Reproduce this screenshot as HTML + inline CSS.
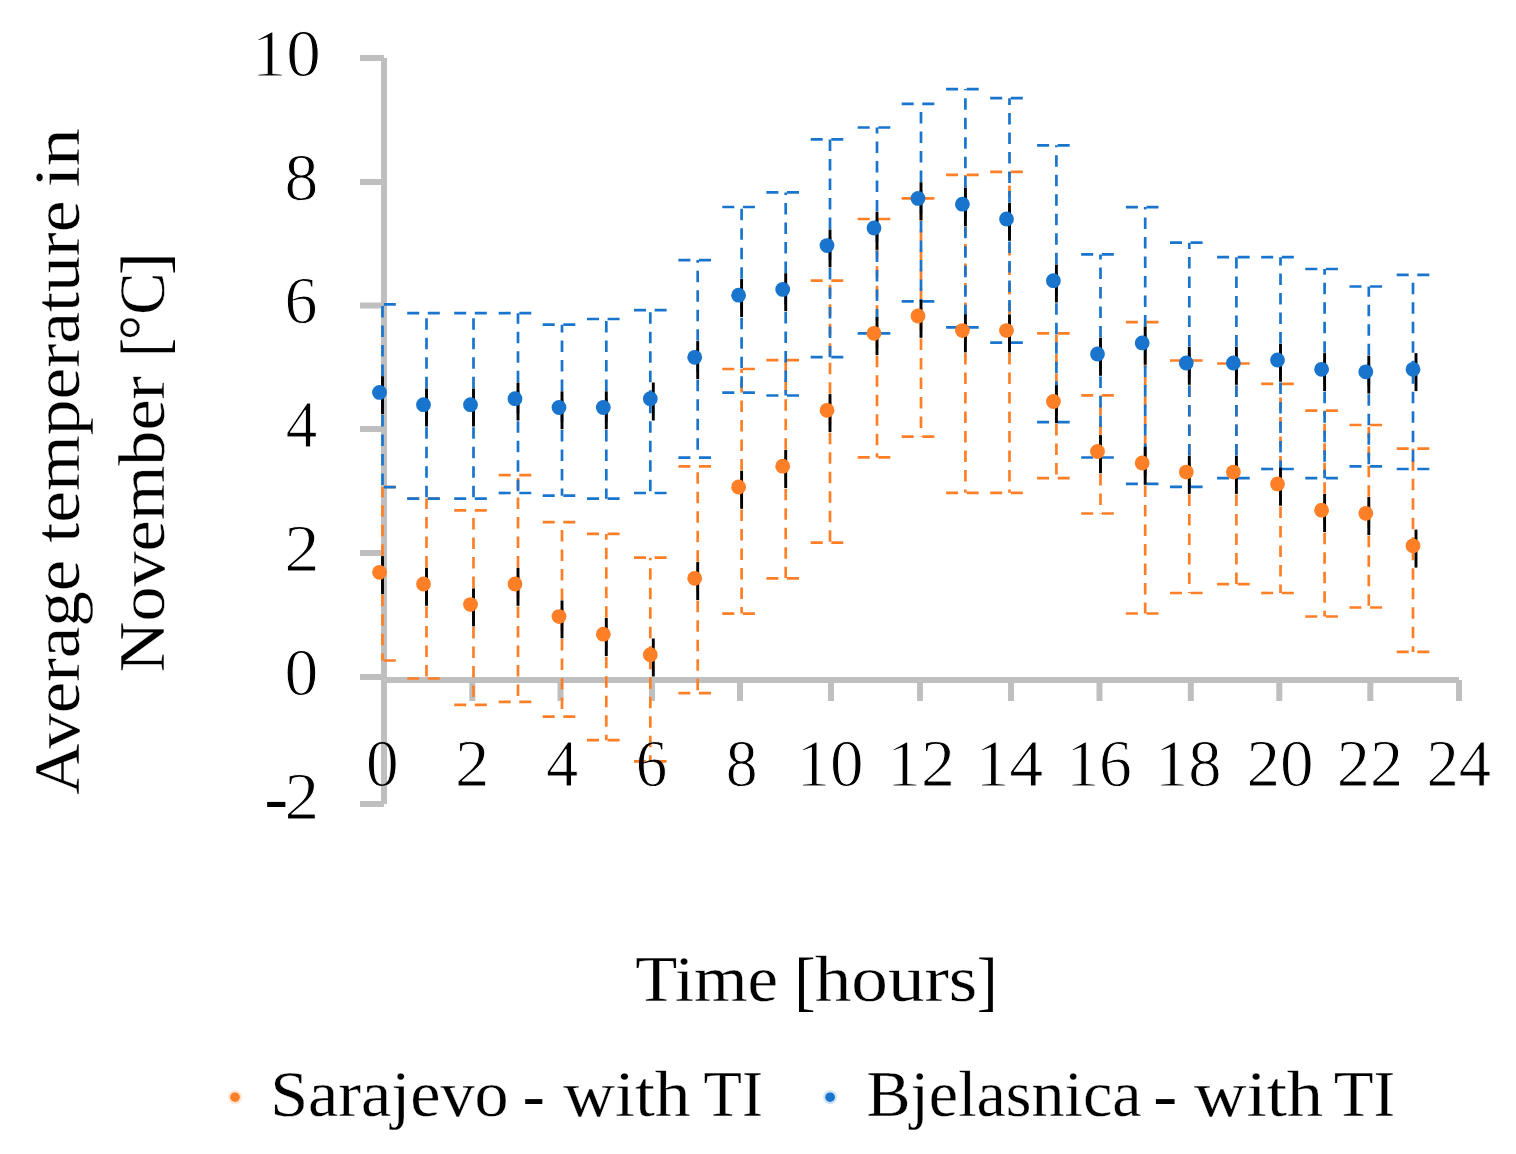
<!DOCTYPE html>
<html lang="en"><head><meta charset="utf-8"><title>Average temperature in November</title>
<style>html,body{margin:0;padding:0;background:#fff}body{width:1516px;height:1154px;overflow:hidden}svg{display:block}text{font-family:'Liberation Serif', serif;fill:#000}</style>
</head><body>
<svg width="1516" height="1154" viewBox="0 0 1516 1154">
<defs><clipPath id="plot"><rect x="381" y="40" width="1090" height="790"/></clipPath></defs>
<rect width="1516" height="1154" fill="#fff"/>
<g id="chart" style="filter:blur(0.7px)">
<g fill="#BFBFBF">
<rect x="381" y="58" width="6" height="746"/>
<rect x="384" y="677" width="1075" height="6"/>
<rect x="360" y="55" width="24" height="6"/>
<rect x="360" y="179" width="24" height="6"/>
<rect x="360" y="302.5" width="24" height="6"/>
<rect x="360" y="426" width="24" height="6"/>
<rect x="360" y="550" width="24" height="6"/>
<rect x="360" y="674" width="24" height="6"/>
<rect x="360" y="801" width="24" height="6"/>
<rect x="469.3" y="680" width="6" height="21"/>
<rect x="557.5" y="680" width="6" height="21"/>
<rect x="649" y="680" width="6" height="21"/>
<rect x="737" y="680" width="6" height="21"/>
<rect x="828" y="680" width="6" height="21"/>
<rect x="917" y="680" width="6" height="21"/>
<rect x="1008" y="680" width="6" height="21"/>
<rect x="1096.5" y="680" width="6" height="21"/>
<rect x="1187.8" y="680" width="6" height="21"/>
<rect x="1276.3" y="680" width="6" height="21"/>
<rect x="1367.3" y="680" width="6" height="21"/>
<rect x="1456" y="680" width="6" height="21"/>
</g>
<g stroke="#FF7F27" stroke-width="2.7" fill="none" clip-path="url(#plot)">
<path d="M382.5 575.3V487M382.5 575.3V660.5" stroke-dasharray="11.5 8"/>
<path d="M363.2 487H401.8" stroke-dasharray="12 8.6"/>
<path d="M363.2 660.5H401.8" stroke-dasharray="12 8.6"/>
<path d="M426.5 587V498.6M426.5 587V678.5" stroke-dasharray="11.5 8"/>
<path d="M407.2 498.6H445.8" stroke-dasharray="12 8.6"/>
<path d="M407.2 678.5H445.8" stroke-dasharray="12 8.6"/>
<path d="M473.5 607.6V510.4M473.5 607.6V704.9" stroke-dasharray="11.5 8"/>
<path d="M454.2 510.4H492.8" stroke-dasharray="12 8.6"/>
<path d="M454.2 704.9H492.8" stroke-dasharray="12 8.6"/>
<path d="M518 587V475.1M518 587V701.9" stroke-dasharray="11.5 8"/>
<path d="M498.7 475.1H537.3" stroke-dasharray="12 8.6"/>
<path d="M498.7 701.9H537.3" stroke-dasharray="12 8.6"/>
<path d="M562 619.6V522.2M562 619.6V716.7" stroke-dasharray="11.5 8"/>
<path d="M542.7 522.2H581.3" stroke-dasharray="12 8.6"/>
<path d="M542.7 716.7H581.3" stroke-dasharray="12 8.6"/>
<path d="M606.3 637.2V533.9M606.3 637.2V740.2" stroke-dasharray="11.5 8"/>
<path d="M587 533.9H625.6" stroke-dasharray="12 8.6"/>
<path d="M587 740.2H625.6" stroke-dasharray="12 8.6"/>
<path d="M650.3 657.7V557.7M650.3 657.7V761.3" stroke-dasharray="11.5 8"/>
<path d="M634 557.7H672.6" stroke-dasharray="12 8.6"/>
<path d="M634 761.3H672.6" stroke-dasharray="12 8.6"/>
<path d="M697.7 581.3V466.4M697.7 581.3V693.1" stroke-dasharray="11.5 8"/>
<path d="M678.4 466.4H717" stroke-dasharray="12 8.6"/>
<path d="M678.4 693.1H717" stroke-dasharray="12 8.6"/>
<path d="M741.6 490V369M741.6 490V613.6" stroke-dasharray="11.5 8"/>
<path d="M722.3 369H760.9" stroke-dasharray="12 8.6"/>
<path d="M722.3 613.6H760.9" stroke-dasharray="12 8.6"/>
<path d="M785.7 469.2V360.2M785.7 469.2V578.3" stroke-dasharray="11.5 8"/>
<path d="M766.4 360.2H805" stroke-dasharray="12 8.6"/>
<path d="M766.4 578.3H805" stroke-dasharray="12 8.6"/>
<path d="M830 413.3V280.7M830 413.3V542.7" stroke-dasharray="11.5 8"/>
<path d="M810.7 280.7H849.3" stroke-dasharray="12 8.6"/>
<path d="M810.7 542.7H849.3" stroke-dasharray="12 8.6"/>
<path d="M877 336.3V219M877 336.3V457.4" stroke-dasharray="11.5 8"/>
<path d="M857.7 219H896.3" stroke-dasharray="12 8.6"/>
<path d="M857.7 457.4H896.3" stroke-dasharray="12 8.6"/>
<path d="M921 319V198.4M921 319V436.6" stroke-dasharray="11.5 8"/>
<path d="M901.7 198.4H940.3" stroke-dasharray="12 8.6"/>
<path d="M901.7 436.6H940.3" stroke-dasharray="12 8.6"/>
<path d="M965.4 333.6V174.9M965.4 333.6V492.8" stroke-dasharray="11.5 8"/>
<path d="M946.1 174.9H984.7" stroke-dasharray="12 8.6"/>
<path d="M946.1 492.8H984.7" stroke-dasharray="12 8.6"/>
<path d="M1009.5 333.6V171.9M1009.5 333.6V492.8" stroke-dasharray="11.5 8"/>
<path d="M990.2 171.9H1028.8" stroke-dasharray="12 8.6"/>
<path d="M990.2 492.8H1028.8" stroke-dasharray="12 8.6"/>
<path d="M1056.4 404.5V333.3M1056.4 404.5V478.2" stroke-dasharray="11.5 8"/>
<path d="M1037.1 333.3H1075.7" stroke-dasharray="12 8.6"/>
<path d="M1037.1 478.2H1075.7" stroke-dasharray="12 8.6"/>
<path d="M1100.5 454.5V395.4M1100.5 454.5V513.5" stroke-dasharray="11.5 8"/>
<path d="M1081.2 395.4H1119.8" stroke-dasharray="12 8.6"/>
<path d="M1081.2 513.5H1119.8" stroke-dasharray="12 8.6"/>
<path d="M1145.2 466V322.1M1145.2 466V613.5" stroke-dasharray="11.5 8"/>
<path d="M1125.9 322.1H1164.5" stroke-dasharray="12 8.6"/>
<path d="M1125.9 613.5H1164.5" stroke-dasharray="12 8.6"/>
<path d="M1189.3 475.1V360.5M1189.3 475.1V593" stroke-dasharray="11.5 8"/>
<path d="M1170 360.5H1208.6" stroke-dasharray="12 8.6"/>
<path d="M1170 593H1208.6" stroke-dasharray="12 8.6"/>
<path d="M1236.4 475.1V363.5M1236.4 475.1V584.2" stroke-dasharray="11.5 8"/>
<path d="M1217.1 363.5H1255.7" stroke-dasharray="12 8.6"/>
<path d="M1217.1 584.2H1255.7" stroke-dasharray="12 8.6"/>
<path d="M1280.5 486.9V383.8M1280.5 486.9V593" stroke-dasharray="11.5 8"/>
<path d="M1261.2 383.8H1299.8" stroke-dasharray="12 8.6"/>
<path d="M1261.2 593H1299.8" stroke-dasharray="12 8.6"/>
<path d="M1324.6 513.2V410.6M1324.6 513.2V616.5" stroke-dasharray="11.5 8"/>
<path d="M1305.3 410.6H1343.9" stroke-dasharray="12 8.6"/>
<path d="M1305.3 616.5H1343.9" stroke-dasharray="12 8.6"/>
<path d="M1368.8 516.3V425M1368.8 516.3V607.5" stroke-dasharray="11.5 8"/>
<path d="M1349.5 425H1388.1" stroke-dasharray="12 8.6"/>
<path d="M1349.5 607.5H1388.1" stroke-dasharray="12 8.6"/>
<path d="M1413 548.8V448.6M1413 548.8V651.9" stroke-dasharray="11.5 8"/>
<path d="M1396.7 448.6H1435.3" stroke-dasharray="12 8.6"/>
<path d="M1396.7 651.9H1435.3" stroke-dasharray="12 8.6"/>
</g>
<g stroke="#1874CD" stroke-width="2.7" fill="none" clip-path="url(#plot)">
<path d="M382.5 395.4V304.4M382.5 395.4V487.2" stroke-dasharray="11.5 8"/>
<path d="M363.2 304.4H401.8" stroke-dasharray="12 8.6"/>
<path d="M363.2 487.2H401.8" stroke-dasharray="12 8.6"/>
<path d="M426.5 407.7V313.2M426.5 407.7V498.7" stroke-dasharray="11.5 8"/>
<path d="M407.2 313.2H445.8" stroke-dasharray="12 8.6"/>
<path d="M407.2 498.7H445.8" stroke-dasharray="12 8.6"/>
<path d="M473.5 407.7V313.2M473.5 407.7V498.7" stroke-dasharray="11.5 8"/>
<path d="M454.2 313.2H492.8" stroke-dasharray="12 8.6"/>
<path d="M454.2 498.7H492.8" stroke-dasharray="12 8.6"/>
<path d="M518 401.7V313.2M518 401.7V493" stroke-dasharray="11.5 8"/>
<path d="M498.7 313.2H537.3" stroke-dasharray="12 8.6"/>
<path d="M498.7 493H537.3" stroke-dasharray="12 8.6"/>
<path d="M562 410.5V324.7M562 410.5V495.7" stroke-dasharray="11.5 8"/>
<path d="M542.7 324.7H581.3" stroke-dasharray="12 8.6"/>
<path d="M542.7 495.7H581.3" stroke-dasharray="12 8.6"/>
<path d="M606.3 410.5V319M606.3 410.5V498.7" stroke-dasharray="11.5 8"/>
<path d="M587 319H625.6" stroke-dasharray="12 8.6"/>
<path d="M587 498.7H625.6" stroke-dasharray="12 8.6"/>
<path d="M650.3 401.7V310.2M650.3 401.7V493" stroke-dasharray="11.5 8"/>
<path d="M634 310.2H672.6" stroke-dasharray="12 8.6"/>
<path d="M634 493H672.6" stroke-dasharray="12 8.6"/>
<path d="M697.7 360.3V260.1M697.7 360.3V457.6" stroke-dasharray="11.5 8"/>
<path d="M678.4 260.1H717" stroke-dasharray="12 8.6"/>
<path d="M678.4 457.6H717" stroke-dasharray="12 8.6"/>
<path d="M741.6 298.2V207M741.6 298.2V392.6" stroke-dasharray="11.5 8"/>
<path d="M722.3 207H760.9" stroke-dasharray="12 8.6"/>
<path d="M722.3 392.6H760.9" stroke-dasharray="12 8.6"/>
<path d="M785.7 292.4V192.4M785.7 292.4V395.5" stroke-dasharray="11.5 8"/>
<path d="M766.4 192.4H805" stroke-dasharray="12 8.6"/>
<path d="M766.4 395.5H805" stroke-dasharray="12 8.6"/>
<path d="M830 248.6V139.3M830 248.6V357.2" stroke-dasharray="11.5 8"/>
<path d="M810.7 139.3H849.3" stroke-dasharray="12 8.6"/>
<path d="M810.7 357.2H849.3" stroke-dasharray="12 8.6"/>
<path d="M877 231V127.5M877 231V333.3" stroke-dasharray="11.5 8"/>
<path d="M857.7 127.5H896.3" stroke-dasharray="12 8.6"/>
<path d="M857.7 333.3H896.3" stroke-dasharray="12 8.6"/>
<path d="M921 201.4V103.9M921 201.4V301.4" stroke-dasharray="11.5 8"/>
<path d="M901.7 103.9H940.3" stroke-dasharray="12 8.6"/>
<path d="M901.7 301.4H940.3" stroke-dasharray="12 8.6"/>
<path d="M965.4 207.2V89.1M965.4 207.2V327.3" stroke-dasharray="11.5 8"/>
<path d="M946.1 89.1H984.7" stroke-dasharray="12 8.6"/>
<path d="M946.1 327.3H984.7" stroke-dasharray="12 8.6"/>
<path d="M1009.5 222V98.2M1009.5 222V342.6" stroke-dasharray="11.5 8"/>
<path d="M990.2 98.2H1028.8" stroke-dasharray="12 8.6"/>
<path d="M990.2 342.6H1028.8" stroke-dasharray="12 8.6"/>
<path d="M1056.4 283.7V145.3M1056.4 283.7V422.1" stroke-dasharray="11.5 8"/>
<path d="M1037.1 145.3H1075.7" stroke-dasharray="12 8.6"/>
<path d="M1037.1 422.1H1075.7" stroke-dasharray="12 8.6"/>
<path d="M1100.5 357V254.4M1100.5 357V457.5" stroke-dasharray="11.5 8"/>
<path d="M1081.2 254.4H1119.8" stroke-dasharray="12 8.6"/>
<path d="M1081.2 457.5H1119.8" stroke-dasharray="12 8.6"/>
<path d="M1145.2 345.9V207.1M1145.2 345.9V483.9" stroke-dasharray="11.5 8"/>
<path d="M1125.9 207.1H1164.5" stroke-dasharray="12 8.6"/>
<path d="M1125.9 483.9H1164.5" stroke-dasharray="12 8.6"/>
<path d="M1189.3 366V242.7M1189.3 366V486.9" stroke-dasharray="11.5 8"/>
<path d="M1170 242.7H1208.6" stroke-dasharray="12 8.6"/>
<path d="M1170 486.9H1208.6" stroke-dasharray="12 8.6"/>
<path d="M1236.4 366V257.2M1236.4 366V478.2" stroke-dasharray="11.5 8"/>
<path d="M1217.1 257.2H1255.7" stroke-dasharray="12 8.6"/>
<path d="M1217.1 478.2H1255.7" stroke-dasharray="12 8.6"/>
<path d="M1280.5 363V257.2M1280.5 363V469" stroke-dasharray="11.5 8"/>
<path d="M1261.2 257.2H1299.8" stroke-dasharray="12 8.6"/>
<path d="M1261.2 469H1299.8" stroke-dasharray="12 8.6"/>
<path d="M1324.6 372.3V269M1324.6 372.3V478.2" stroke-dasharray="11.5 8"/>
<path d="M1305.3 269H1343.9" stroke-dasharray="12 8.6"/>
<path d="M1305.3 478.2H1343.9" stroke-dasharray="12 8.6"/>
<path d="M1368.8 374.8V286.5M1368.8 374.8V466.4" stroke-dasharray="11.5 8"/>
<path d="M1349.5 286.5H1388.1" stroke-dasharray="12 8.6"/>
<path d="M1349.5 466.4H1388.1" stroke-dasharray="12 8.6"/>
<path d="M1413 372.3V274.8M1413 372.3V469" stroke-dasharray="11.5 8"/>
<path d="M1396.7 274.8H1435.3" stroke-dasharray="12 8.6"/>
<path d="M1396.7 469H1435.3" stroke-dasharray="12 8.6"/>
</g>
<g stroke="#000" stroke-width="2.9">
<path d="M382.5 556.1V594.1"/>
<path d="M426.5 567.8V605.8"/>
<path d="M473.5 588.4V626.4"/>
<path d="M518 567.8V605.8"/>
<path d="M562 600.4V638.4"/>
<path d="M606.3 618V656"/>
<path d="M653.3 638.5V676.5"/>
<path d="M697.7 562.1V600.1"/>
<path d="M741.6 470.8V508.8"/>
<path d="M785.7 450V488"/>
<path d="M830 394.1V432.1"/>
<path d="M877 317.1V355.1"/>
<path d="M921 299.8V337.8"/>
<path d="M965.4 314.4V352.4"/>
<path d="M1009.5 314.4V352.4"/>
<path d="M1056.4 385.3V423.3"/>
<path d="M1100.5 435.3V473.3"/>
<path d="M1145.2 446.8V484.8"/>
<path d="M1189.3 455.9V493.9"/>
<path d="M1236.4 455.9V493.9"/>
<path d="M1280.5 467.7V505.7"/>
<path d="M1324.6 494V532"/>
<path d="M1368.8 497.1V535.1"/>
<path d="M1416 529.6V567.6"/>
</g>
<g stroke="#000" stroke-width="2.9">
<path d="M382.5 376.2V414.2"/>
<path d="M426.5 388.5V426.5"/>
<path d="M473.5 388.5V426.5"/>
<path d="M518 382.5V420.5"/>
<path d="M562 391.3V429.3"/>
<path d="M606.3 391.3V429.3"/>
<path d="M653.3 382.5V420.5"/>
<path d="M697.7 341.1V379.1"/>
<path d="M741.6 279V317"/>
<path d="M785.7 273.2V311.2"/>
<path d="M830 229.4V267.4"/>
<path d="M877 211.8V249.8"/>
<path d="M921 182.2V220.2"/>
<path d="M965.4 188V226"/>
<path d="M1009.5 202.8V240.8"/>
<path d="M1056.4 264.5V302.5"/>
<path d="M1100.5 337.8V375.8"/>
<path d="M1145.2 326.7V364.7"/>
<path d="M1189.3 346.8V384.8"/>
<path d="M1236.4 346.8V384.8"/>
<path d="M1280.5 343.8V381.8"/>
<path d="M1324.6 353.1V391.1"/>
<path d="M1368.8 355.6V393.6"/>
<path d="M1416 353.1V391.1"/>
</g>
<g fill="#FF7F27">
<circle cx="379.5" cy="572.3" r="7.4"/>
<circle cx="423.5" cy="584" r="7.4"/>
<circle cx="470.5" cy="604.6" r="7.4"/>
<circle cx="515" cy="584" r="7.4"/>
<circle cx="559" cy="616.6" r="7.4"/>
<circle cx="603.3" cy="634.2" r="7.4"/>
<circle cx="650.3" cy="654.7" r="7.4"/>
<circle cx="694.7" cy="578.3" r="7.4"/>
<circle cx="738.6" cy="487" r="7.4"/>
<circle cx="782.7" cy="466.2" r="7.4"/>
<circle cx="827" cy="410.3" r="7.4"/>
<circle cx="874" cy="333.3" r="7.4"/>
<circle cx="918" cy="316" r="7.4"/>
<circle cx="962.4" cy="330.6" r="7.4"/>
<circle cx="1006.5" cy="330.6" r="7.4"/>
<circle cx="1053.4" cy="401.5" r="7.4"/>
<circle cx="1097.5" cy="451.5" r="7.4"/>
<circle cx="1142.2" cy="463" r="7.4"/>
<circle cx="1186.3" cy="472.1" r="7.4"/>
<circle cx="1233.4" cy="472.1" r="7.4"/>
<circle cx="1277.5" cy="483.9" r="7.4"/>
<circle cx="1321.6" cy="510.2" r="7.4"/>
<circle cx="1365.8" cy="513.3" r="7.4"/>
<circle cx="1413" cy="545.8" r="7.4"/>
</g>
<g fill="#1874CD">
<circle cx="379.5" cy="392.4" r="7.4"/>
<circle cx="423.5" cy="404.7" r="7.4"/>
<circle cx="470.5" cy="404.7" r="7.4"/>
<circle cx="515" cy="398.7" r="7.4"/>
<circle cx="559" cy="407.5" r="7.4"/>
<circle cx="603.3" cy="407.5" r="7.4"/>
<circle cx="650.3" cy="398.7" r="7.4"/>
<circle cx="694.7" cy="357.3" r="7.4"/>
<circle cx="738.6" cy="295.2" r="7.4"/>
<circle cx="782.7" cy="289.4" r="7.4"/>
<circle cx="827" cy="245.6" r="7.4"/>
<circle cx="874" cy="228" r="7.4"/>
<circle cx="918" cy="198.4" r="7.4"/>
<circle cx="962.4" cy="204.2" r="7.4"/>
<circle cx="1006.5" cy="219" r="7.4"/>
<circle cx="1053.4" cy="280.7" r="7.4"/>
<circle cx="1097.5" cy="354" r="7.4"/>
<circle cx="1142.2" cy="342.9" r="7.4"/>
<circle cx="1186.3" cy="363" r="7.4"/>
<circle cx="1233.4" cy="363" r="7.4"/>
<circle cx="1277.5" cy="360" r="7.4"/>
<circle cx="1321.6" cy="369.3" r="7.4"/>
<circle cx="1365.8" cy="371.8" r="7.4"/>
<circle cx="1413" cy="369.3" r="7.4"/>
</g>
<g style="mix-blend-mode:multiply" stroke="#fff" stroke-width="1" stroke-linejoin="round">
<text font-size="68"><tspan x="251.67" y="75.6" textLength="69.2" lengthAdjust="spacingAndGlyphs">10</tspan></text>
<text font-size="68"><tspan x="284.4" y="199.5" textLength="33.81" lengthAdjust="spacingAndGlyphs">8</tspan></text>
<text font-size="68"><tspan x="284.46" y="323.4" textLength="33.02" lengthAdjust="spacingAndGlyphs">6</tspan></text>
<text font-size="68"><tspan x="285.84" y="447.3" textLength="31.49" lengthAdjust="spacingAndGlyphs">4</tspan></text>
<text font-size="68"><tspan x="284.27" y="571.2" textLength="35.37" lengthAdjust="spacingAndGlyphs">2</tspan></text>
<text font-size="68"><tspan x="284.4" y="695.1" textLength="33.81" lengthAdjust="spacingAndGlyphs">0</tspan></text>
<text font-size="68"><tspan x="264.49" y="819.6" textLength="23.44" lengthAdjust="spacingAndGlyphs" stroke="none">-</tspan><tspan x="284.63" y="819" textLength="34.63" lengthAdjust="spacingAndGlyphs">2</tspan></text>
</g>
<g style="mix-blend-mode:multiply" stroke="#fff" stroke-width="1" stroke-linejoin="round">
<text font-size="68"><tspan x="365.89" y="786.1" textLength="32.62" lengthAdjust="spacingAndGlyphs">0</tspan></text>
<text font-size="68"><tspan x="455.04" y="786.1" textLength="34.51" lengthAdjust="spacingAndGlyphs">2</tspan></text>
<text font-size="68"><tspan x="546.01" y="786.1" textLength="32.23" lengthAdjust="spacingAndGlyphs">4</tspan></text>
<text font-size="68"><tspan x="635.78" y="786.1" textLength="31.51" lengthAdjust="spacingAndGlyphs">6</tspan></text>
<text font-size="68"><tspan x="725.66" y="786.1" textLength="31.79" lengthAdjust="spacingAndGlyphs">8</tspan></text>
<text font-size="68"><tspan x="796.56" y="786.1" textLength="67.13" lengthAdjust="spacingAndGlyphs">10</tspan></text>
<text font-size="68"><tspan x="886.99" y="786.1" textLength="67.91" lengthAdjust="spacingAndGlyphs">12</tspan></text>
<text font-size="68"><tspan x="975.4" y="786.1" textLength="67.78" lengthAdjust="spacingAndGlyphs">14</tspan></text>
<text font-size="68"><tspan x="1066.29" y="786.1" textLength="65.68" lengthAdjust="spacingAndGlyphs">16</tspan></text>
<text font-size="68"><tspan x="1155.12" y="786.1" textLength="66.44" lengthAdjust="spacingAndGlyphs">18</tspan></text>
<text font-size="68"><tspan x="1246.41" y="786.1" textLength="67.17" lengthAdjust="spacingAndGlyphs">20</tspan></text>
<text font-size="68"><tspan x="1336.85" y="786.1" textLength="66.37" lengthAdjust="spacingAndGlyphs">22</tspan></text>
<text font-size="68"><tspan x="1426.41" y="786.1" textLength="64.63" lengthAdjust="spacingAndGlyphs">24</tspan></text>
</g>
<g style="mix-blend-mode:multiply" stroke="#fff" stroke-width="0.3" stroke-linejoin="round">
<text font-size="66.5"><tspan x="635.32" y="1000.7" textLength="142.7" lengthAdjust="spacingAndGlyphs">Time</tspan> <tspan x="794.33" y="1003.3" textLength="21.29" lengthAdjust="spacingAndGlyphs" stroke="none">[</tspan><tspan x="814.77" y="1000.7" textLength="162.59" lengthAdjust="spacingAndGlyphs">hours</tspan><tspan x="977.06" y="1003.3" textLength="20.42" lengthAdjust="spacingAndGlyphs" stroke="none">]</tspan></text>
<text font-size="66.5" transform="rotate(-90)"><tspan x="-794.71" y="79.3" textLength="235.02" lengthAdjust="spacingAndGlyphs">Average</tspan> <tspan x="-542.72" y="79.3" textLength="342.23" lengthAdjust="spacingAndGlyphs">temperature</tspan> <tspan x="-187.53" y="79.3" textLength="59.44" lengthAdjust="spacingAndGlyphs">in</tspan></text>
<text font-size="66.5" transform="rotate(-90)"><tspan x="-672.31" y="163.5" textLength="296.26" lengthAdjust="spacingAndGlyphs">November</tspan> <tspan x="-356.37" y="166.1" textLength="17.96" lengthAdjust="spacingAndGlyphs" stroke="none">[</tspan><tspan x="-340.17" y="163.5" textLength="67.58" lengthAdjust="spacingAndGlyphs">°C</tspan><tspan x="-275.13" y="166.1" textLength="22.59" lengthAdjust="spacingAndGlyphs" stroke="none">]</tspan></text>
</g>
<circle cx="235" cy="1097.2" r="7" fill="#FF7F27" opacity="0.2"/>
<circle cx="235" cy="1097.2" r="4.8" fill="#FF7F27"/>
<circle cx="830.1" cy="1097.2" r="7" fill="#1874CD" opacity="0.2"/>
<circle cx="830.1" cy="1097.2" r="4.8" fill="#1874CD"/>
<g style="mix-blend-mode:multiply" stroke="#fff" stroke-width="0.3" stroke-linejoin="round">
<text font-size="66.5"><tspan x="270.21" y="1115.9" textLength="238.42" lengthAdjust="spacingAndGlyphs">Sarajevo</tspan> <tspan x="522.72" y="1116.6" textLength="21.96" lengthAdjust="spacingAndGlyphs" stroke="none">-</tspan> <tspan x="563.3" y="1115.9" textLength="127.27" lengthAdjust="spacingAndGlyphs">with</tspan> <tspan x="703.54" y="1115.9" textLength="59.39" lengthAdjust="spacingAndGlyphs">TI</tspan></text>
<text font-size="66.5"><tspan x="866.42" y="1115.9" textLength="275.18" lengthAdjust="spacingAndGlyphs">Bjelasnica</tspan> <tspan x="1153.24" y="1116.6" textLength="23.94" lengthAdjust="spacingAndGlyphs" stroke="none">-</tspan> <tspan x="1194" y="1115.9" textLength="129.18" lengthAdjust="spacingAndGlyphs">with</tspan> <tspan x="1333.7" y="1115.9" textLength="61.41" lengthAdjust="spacingAndGlyphs">TI</tspan></text>
</g>
</g>
</svg>
</body></html>
